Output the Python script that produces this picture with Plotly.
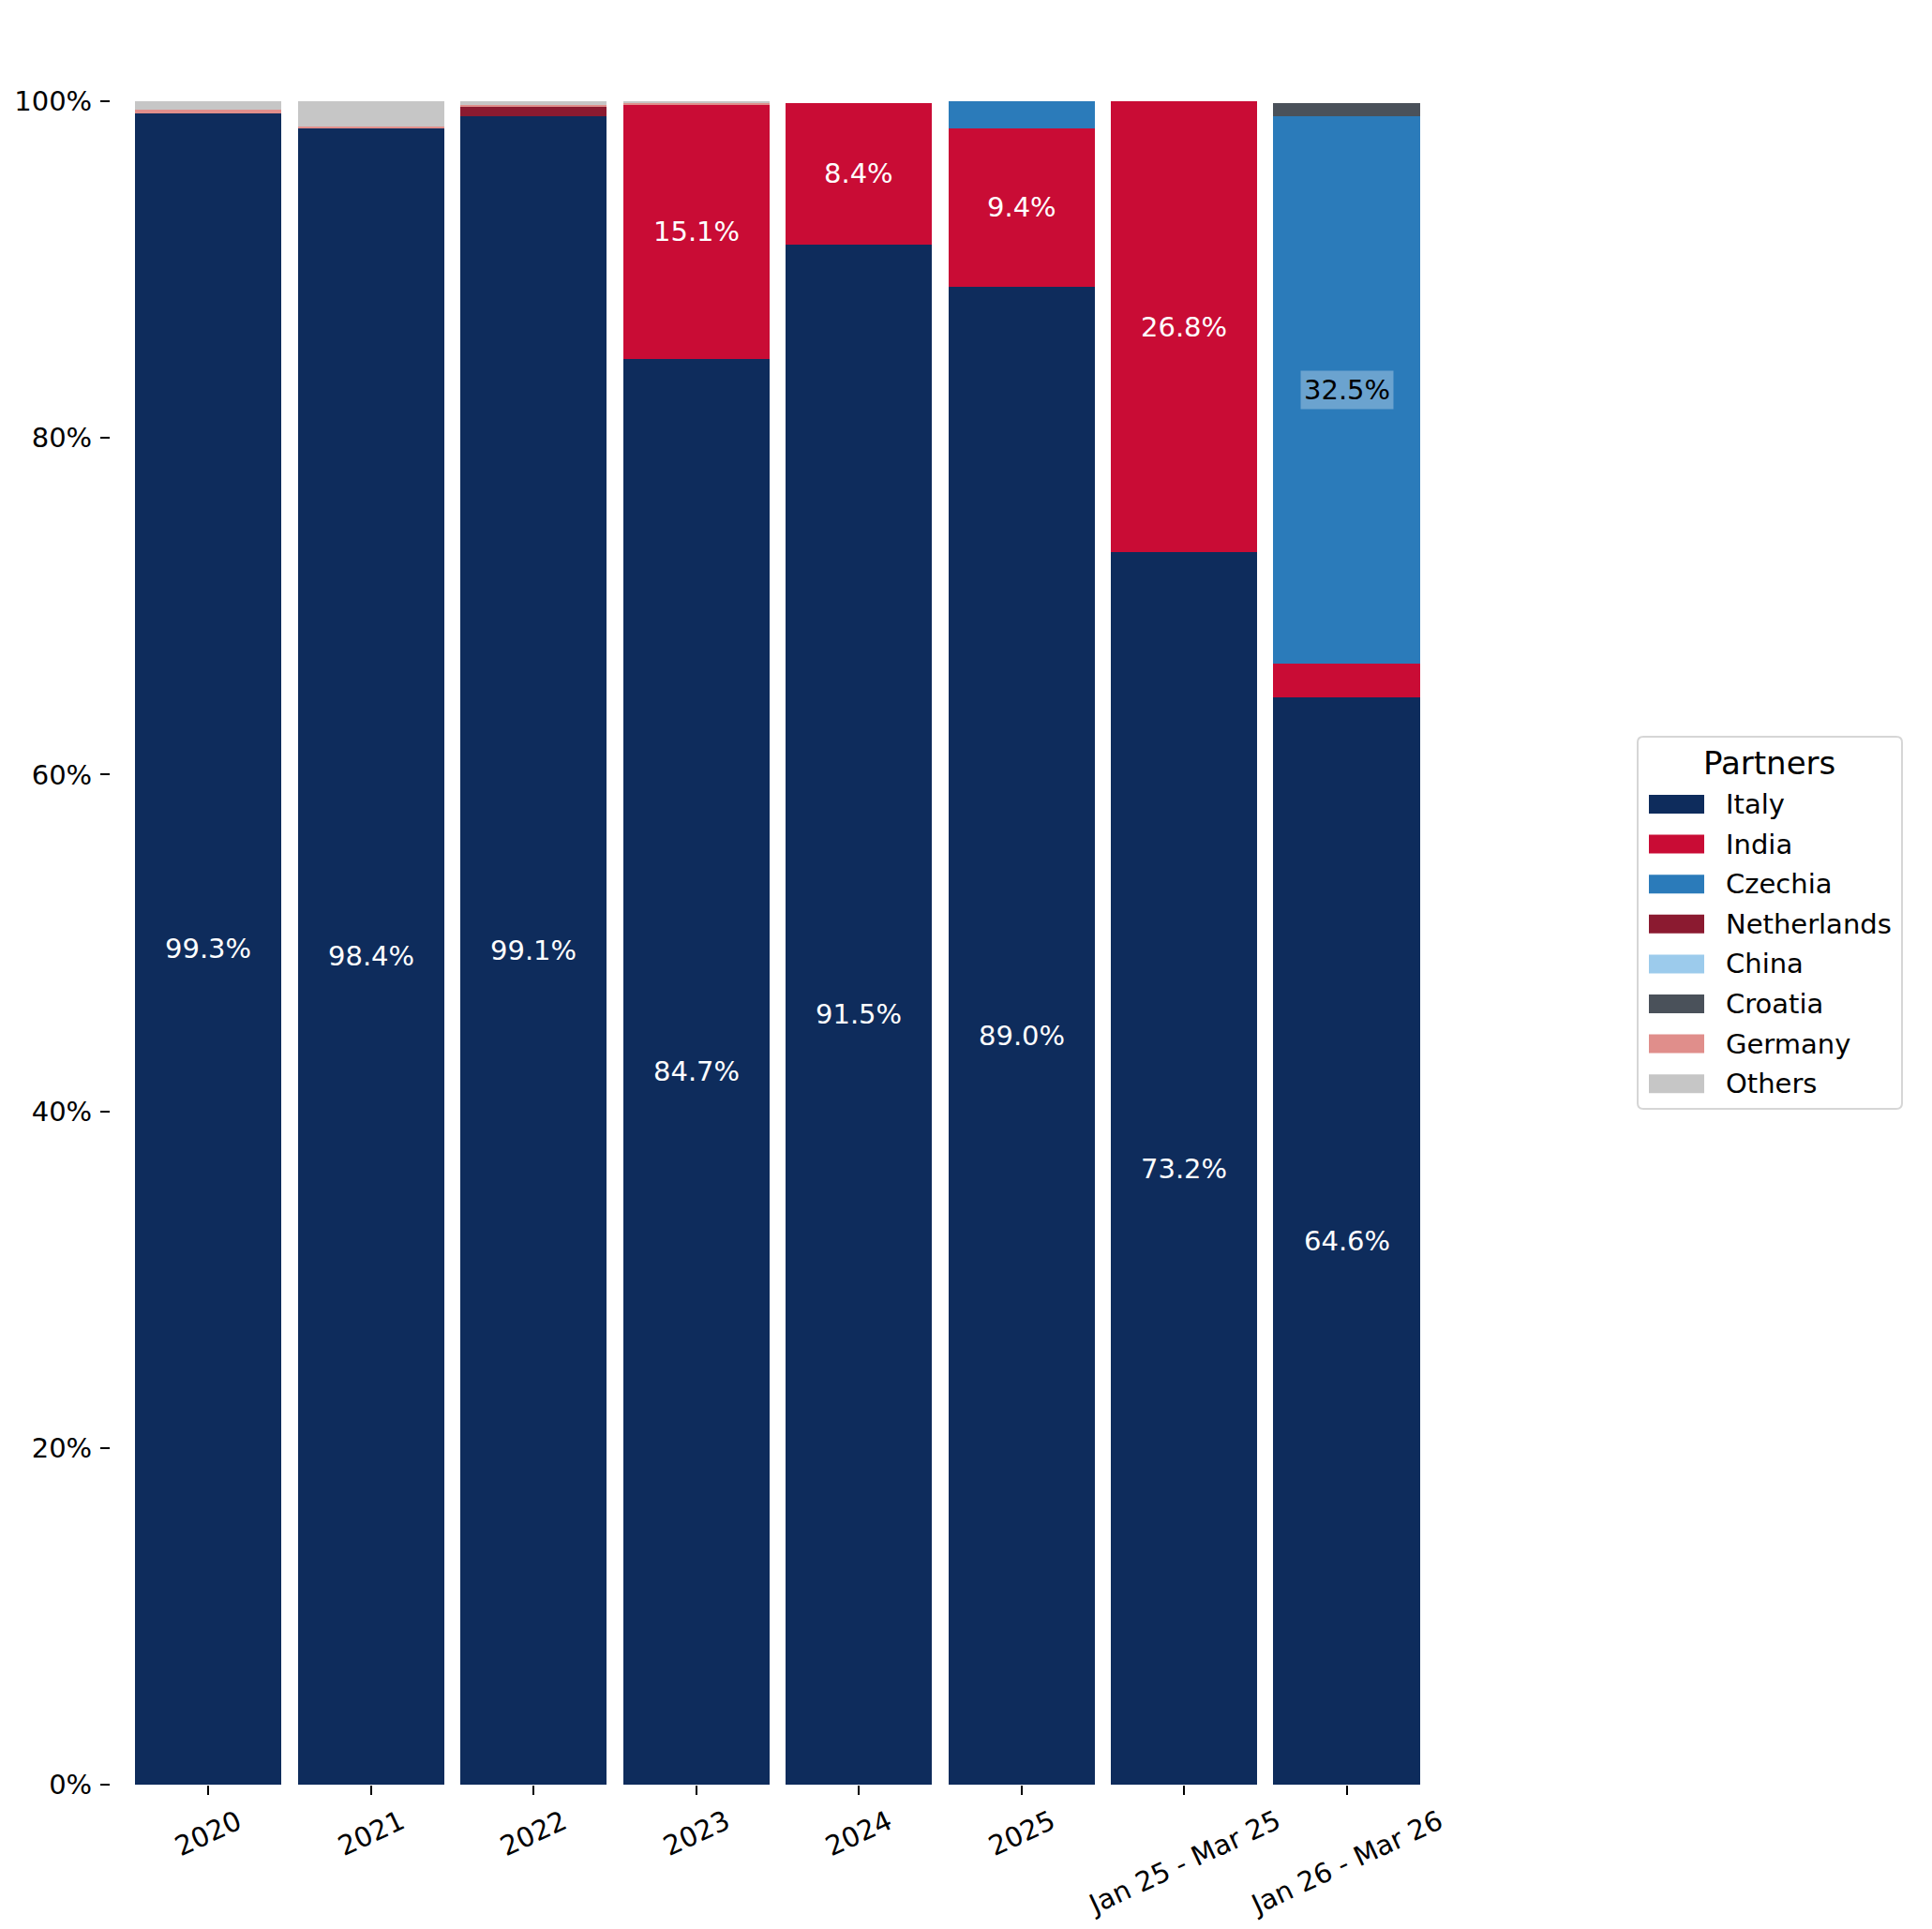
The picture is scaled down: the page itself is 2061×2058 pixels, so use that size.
import plotly.graph_objects as go

# ---------------- data ----------------
categories = ["2020", "2021", "2022", "2023", "2024", "2025",
              "Jan 25 - Mar 25", "Jan 26 - Mar 26"]
partners = ["Italy", "India", "Czechia", "Netherlands", "China", "Croatia", "Germany", "Others"]
italy       = [99.3, 98.4, 99.1, 84.7, 91.5, 89.0, 73.2, 64.6]
india       = [0.0, 0.0, 0.0, 15.1, 8.4, 9.4, 26.8, 2.0]
czechia     = [0.0, 0.0, 0.0, 0.0, 0.0, 1.6, 0.0, 32.5]
netherlands = [0.0, 0.0, 0.6, 0.0, 0.0, 0.0, 0.0, 0.0]
china       = [0.0, 0.0, 0.0, 0.0, 0.0, 0.0, 0.0, 0.0]
croatia     = [0.0, 0.0, 0.0, 0.0, 0.0, 0.0, 0.0, 0.8]
germany     = [0.2, 0.1, 0.1, 0.1, 0.0, 0.0, 0.0, 0.0]
others      = [0.5, 1.5, 0.2, 0.1, 0.0, 0.0, 0.0, 0.0]
series = [italy, india, czechia, netherlands, china, croatia, germany, others]
colors = ["#0e2c5c", "#c90c35", "#2b7bba", "#8b1a30", "#9ccbec", "#4a515a", "#e08e8b", "#c6c6c6"]
dark_label_partners = ["Czechia"]
y_ticks = [0, 20, 40, 60, 80, 100]

# ---------------- layout constants (pixels) ----------------
W, H = 2061, 2058
L, R, T, B = 118, 516, 108, 154
PW = W - L - R
PH = H - T - B
FONT = "DejaVu Sans"
FS = 29


def px_x(px):
    return (px - L) / PW


def px_y(py):
    return (H - B - py) / PH


fig = go.Figure()
x_pos = list(range(len(categories)))
for name, vals, col in zip(partners, series, colors):
    fig.add_trace(go.Bar(
        x=x_pos, y=vals, name=name, width=0.9,
        marker=dict(color=col, line=dict(width=0)),
        showlegend=False, hoverinfo="name+y",
    ))

annotations = []
# value labels in segments
cum = [0.0] * len(categories)
for name, vals in zip(partners, series):
    for i, v in enumerate(vals):
        if v >= 5:
            mid = cum[i] + v / 2
            dark = name in dark_label_partners
            annotations.append(dict(
                x=i, y=mid, xref="x", yref="y", text=f"{v:.1f}%", showarrow=False,
                font=dict(family=FONT, size=FS, color="black" if dark else "white"),
                bgcolor="rgba(255,255,255,0.3)" if dark else None,
                borderpad=3 if dark else 0,
                xanchor="center", yanchor="middle",
            ))
        cum[i] += v

# rotated category labels, centered under ticks
for i, c in enumerate(categories):
    annotations.append(dict(
        x=i, y=0, xref="x", yref="paper", text=c, showarrow=False,
        textangle=-25, xanchor="center", yanchor="top", yshift=-18,
        font=dict(family=FONT, size=FS, color="black"),
    ))

# custom legend
shapes = []
bx0, bx1, by0, by1 = 1747, 2029, 786, 1183
rpx = 6
rx, ry = rpx / PW, rpx / PH
x0, x1, y0, y1 = px_x(bx0), px_x(bx1), px_y(by1), px_y(by0)
path = (f"M{x0+rx},{y0} L{x1-rx},{y0} Q{x1},{y0} {x1},{y0+ry} L{x1},{y1-ry} "
        f"Q{x1},{y1} {x1-rx},{y1} L{x0+rx},{y1} Q{x0},{y1} {x0},{y1-ry} "
        f"L{x0},{y0+ry} Q{x0},{y0} {x0+rx},{y0} Z")
shapes.append(dict(type="path", path=path, xref="paper", yref="paper",
                   line=dict(color="#d6d6d6", width=2), fillcolor="rgba(255,255,255,0.8)"))
annotations.append(dict(
    x=px_x((bx0 + bx1) / 2), y=px_y(814), xref="paper", yref="paper", text="Partners",
    showarrow=False, xanchor="center", yanchor="middle",
    font=dict(family=FONT, size=34, color="black"),
))
for k, (name, col) in enumerate(zip(partners, colors)):
    cy = 858 + k * 42.6
    shapes.append(dict(type="rect", xref="paper", yref="paper",
                       x0=px_x(1759), x1=px_x(1818), y0=px_y(cy + 10), y1=px_y(cy - 10),
                       fillcolor=col, line=dict(width=0)))
    annotations.append(dict(
        x=px_x(1839), y=px_y(cy), xref="paper", yref="paper", text=name,
        showarrow=False, xanchor="left", yanchor="middle",
        font=dict(family=FONT, size=FS, color="black"),
    ))

fig.update_layout(
    width=W, height=H, barmode="stack",
    margin=dict(l=L, r=R, t=T, b=B, autoexpand=False),
    plot_bgcolor="white", paper_bgcolor="white",
    font=dict(family=FONT, size=FS, color="black"),
    showlegend=False,
    annotations=annotations, shapes=shapes,
    xaxis=dict(range=[-0.6, 7.625], tickvals=x_pos, ticktext=categories, showticklabels=False,
               ticks="outside", ticklen=10, tickwidth=2, tickcolor="black",
               showgrid=False, zeroline=False, showline=False),
    yaxis=dict(range=[0, 100], tickvals=y_ticks, ticktext=[f"{t}%" for t in y_ticks],
               ticks="outside", ticklen=10, tickwidth=2, tickcolor="black",
               ticklabelstandoff=3,
               showgrid=False, zeroline=False, showline=False),
)

fig.write_html("out.html")
